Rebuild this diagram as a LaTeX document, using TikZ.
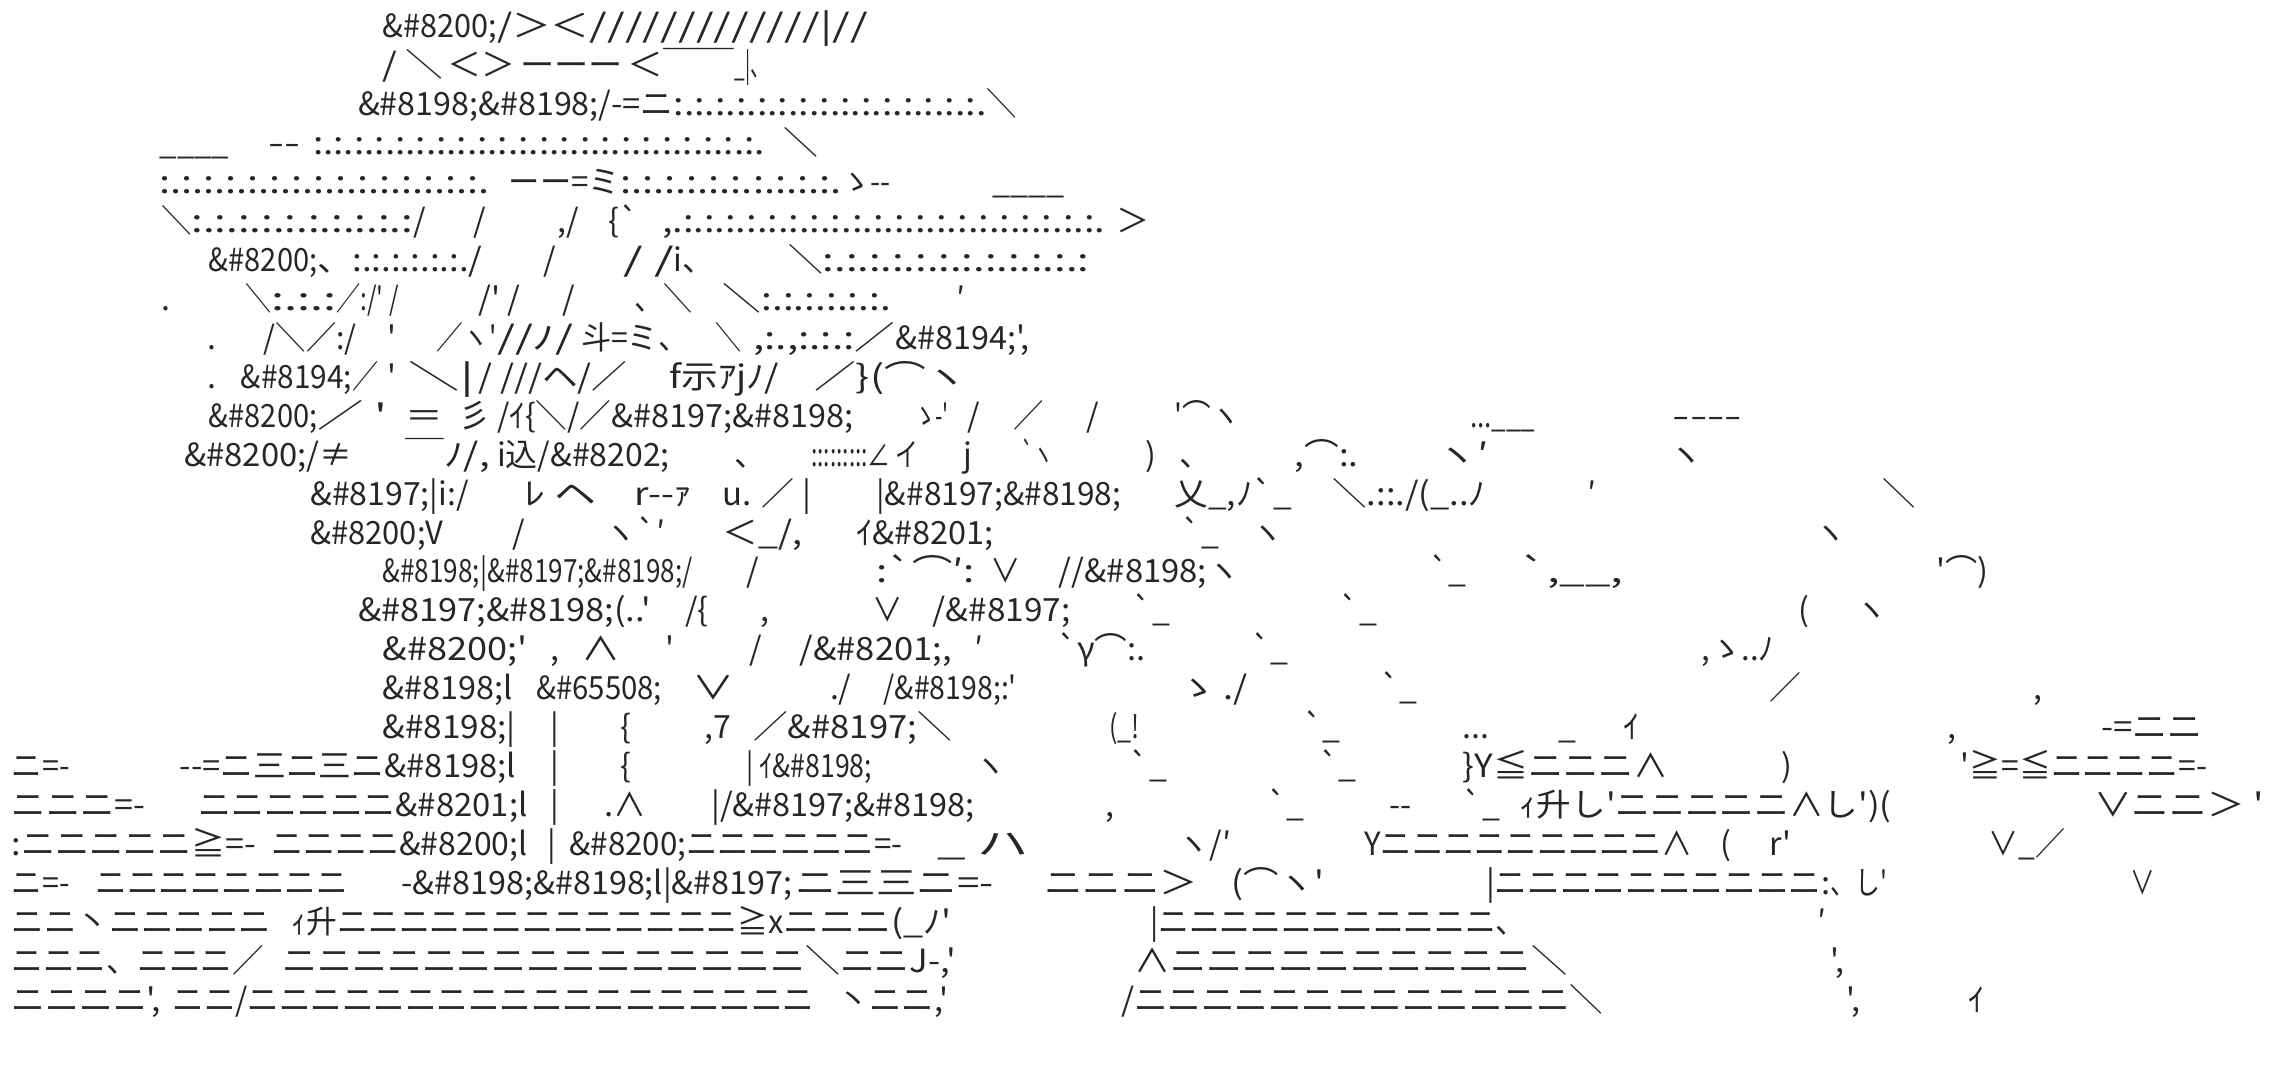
\documentclass[tikz,border=0pt]{standalone}
\usepackage{fontspec}
\usepackage{graphicx}
\newfontfamily\aafont{Noto Sans CJK JP}
\newsavebox\frbox
\newcount\frc
\newcommand\fitto[2]{\sbox\frbox{#2}\ifdim#1pt=0pt\usebox\frbox\else\scalebox{\fpeval{#1*0.724/\the\wd\frbox}}[1]{\usebox\frbox}\fi}
\newcommand\fr[4]{\global\advance\frc by 1\relax\node[aa] (t\the\frc) at (#1,{26+26.9*(#2-1)}) {\fitto{#3}{#4}};}
\tikzset{aa/.style={anchor=base west,inner sep=0pt,text=black!85,font=\aafont\fontsize{16}{16}\selectfont}}
\begin{document}
\begin{tikzpicture}[x=0.724pt,y=-0.724pt]
\useasboundingbox (0,0) rectangle (1568.4,754.1);
% line 1
\fr{264}{1}{79}{\&\#8200;}\fr{343}{1}{64}{/＞＜}\fr{407}{1}{192}{/////////////|//}
% line 2
\fr{264}{2}{42}{/ ＼}\fr{309}{2}{47}{＜＞}\fr{359}{2}{71}{ーーー}\fr{433}{2}{74}{＜￣￣}\fr{507}{2}{24}{\_|、}
% line 3
\fr{247}{3}{175}{\&\#8198;\&\#8198;/}\fr{422}{3}{43}{-=ニ}\fr{465}{3}{216}{:.:.:.:.:.:.:.:.:.:.:.:.:.:.:.}\fr{681}{3}{21}{＼}
% line 4
\fr{110}{4}{48}{\_\_\_\_}\fr{185}{4}{22}{--}\fr{216}{4}{312}{:.:.:.:.:.:.:.:.:.:.:.:.:.:.:.:.:.:.:.:.:.:.}\fr{541}{4}{24}{＼}
% line 5
\fr{110}{5}{228}{:.:.:.:.:.:.:.:.:.:.:.:.:.:.:.}\fr{351}{5}{77}{ーー=ミ}\fr{428}{5}{153}{:.:.:.:.:.:.:.:.:.:.}\fr{581}{5}{34}{ゝ--}\fr{685}{5}{50}{\_\_\_\_}
% line 6
\fr{111}{6}{21}{＼}\fr{132}{6}{153}{:.:.:.:.:.:.:.:.:.:}\fr{285}{6}{0}{/}\fr{327}{6}{0}{/}\fr{385}{6}{0}{,/}\fr{420}{6}{0}{\{`}\fr{457}{6}{306}{,.:.:.:.:.:.:.:.:.:.:.:.:.:.:.:.:.:.:.:.:.}\fr{771}{6}{23}{＞}
% line 7
\fr{144}{7}{75}{\&\#8200;}\fr{219}{7}{114}{、:.:.:.:.:.:./}\fr{375}{7}{0}{/}\fr{430}{7}{35}{/ /}\fr{465}{7}{0}{i、}\fr{544}{7}{24}{＼}\fr{568}{7}{184}{:.:.:.:.:.:.:.:.:.:.:.:}
% line 8
\fr{111}{8}{0}{.}\fr{169}{8}{18}{＼}\fr{187}{8}{45}{:.:.:}\fr{232}{8}{43}{／:/' /}\fr{330}{8}{29}{/' /}\fr{388}{8}{0}{/}\fr{438}{8}{40}{、＼}\fr{499}{8}{116}{＼:.:.:.:.:.:.}\fr{660}{8}{0}{′}
% line 9
\fr{143}{9}{0}{.}\fr{182}{9}{64}{/＼／:/}\fr{267}{9}{0}{'}\fr{301}{9}{42}{／ヽ'}\fr{343}{9}{53}{//ﾉ/}\fr{401}{9}{74}{斗=ミ、}\fr{494}{9}{18}{＼}\fr{520}{9}{98}{,:.,:.:.:／}\fr{618}{9}{93}{\&\#8194;',}
% line 10
\fr{143}{10}{0}{.}\fr{166}{10}{77}{\&\#8194;}\fr{243}{10}{18}{／}\fr{267}{10}{0}{'}\fr{282}{10}{45}{＼|}\fr{330}{10}{103}{/ ///ヘ/／}\fr{462}{10}{76}{f示ｱjﾉ/}\fr{562}{10}{106}{／\}(⌒ヽ}
% line 11
\fr{144}{11}{75}{\&\#8200;}\fr{219}{11}{48}{／ '}\fr{280}{11}{26}{＝}\fr{317}{11}{21}{彡}\fr{343}{11}{79}{/ｲ\{＼/／}\fr{422}{11}{167}{\&\#8197;\&\#8198;}\fr{631}{11}{24}{ゝ-'}\fr{668}{11}{0}{/}\fr{700}{11}{21}{／}\fr{750}{11}{0}{/}\fr{811}{11}{45}{'⌒ヽ}\fr{1015}{11}{45}{...\_\_\_}\fr{1155}{11}{48}{----}
% line 12
\fr{127}{12}{116}{\&\#8200;/≠}\fr{280}{12}{58}{￣ﾉ/,}\fr{343}{12}{0}{i込/\&\#8202;}\fr{507}{12}{0}{、}\fr{560}{12}{74}{:::::::::∠ イ}\fr{665}{12}{0}{j}\fr{705}{12}{22}{`ヽ}\fr{791}{12}{0}{)}\fr{814}{12}{0}{、}\fr{894}{12}{44}{,⌒:.}\fr{992}{12}{36}{ヽ′}\fr{1152}{12}{24}{ヽ}
% line 13
\fr{214}{13}{0}{\&\#8197;|i:/}\fr{362}{13}{50}{ﾚ ヘ}\fr{438}{13}{40}{r--ｧ}\fr{499}{13}{61}{u. ／ |}\fr{605}{13}{169}{|\&\#8197;\&\#8198;}\fr{811}{13}{81}{乂\_,ﾉ`\_}\fr{920}{13}{106}{＼.::./(\_..ﾉ}\fr{1096}{13}{0}{′}\fr{1300}{13}{23}{＼}
% line 14
\fr{214}{14}{92}{\&\#8200;V}\fr{354}{14}{0}{/}\fr{417}{14}{42}{ヽ`′}\fr{499}{14}{55}{＜\_/,}\fr{591}{14}{95}{ｲ\&\#8201;}\fr{816}{14}{0}{`\_}\fr{864}{14}{0}{ヽ}\fr{1253}{14}{0}{ヽ}
% line 15
\fr{264}{15}{214}{\&\#8198;|\&\#8197;\&\#8198;/}\fr{515}{15}{0}{/}\fr{605}{15}{68}{:`⌒′:}\fr{684}{15}{21}{∨}\fr{731}{15}{125}{//\&\#8198;ヽ}\fr{987}{15}{0}{`\_}\fr{1049}{15}{72}{`,\_\_,}\fr{1337}{15}{36}{'⌒)}
% line 16
\fr{247}{16}{202}{\&\#8197;\&\#8198;(..'}\fr{473}{16}{0}{/\{}\fr{525}{16}{0}{,}\fr{602}{16}{21}{∨}\fr{644}{16}{95}{/\&\#8197;}\fr{782}{16}{0}{`\_}\fr{925}{16}{0}{`\_}\fr{1242}{16}{0}{(}\fr{1281}{16}{0}{ヽ}
% line 17
\fr{264}{17}{100}{\&\#8200;'}\fr{380}{17}{0}{,}\fr{401}{17}{27}{∧}\fr{459}{17}{0}{'}\fr{517}{17}{0}{/}\fr{552}{17}{105}{/\&\#8201;,}\fr{673}{17}{0}{′}\fr{730}{17}{61}{`γ⌒:.}\fr{864}{17}{0}{`\_}\fr{1175}{17}{50}{,ゝ..ﾉ}
% line 18
\fr{264}{18}{90}{\&\#8198;l}\fr{370}{18}{87}{\&\#65508;}\fr{478}{18}{29}{∨}\fr{573}{18}{0}{./}\fr{610}{18}{92}{/\&\#8198;:'}\fr{814}{18}{47}{ゝ ./}\fr{953}{18}{0}{`\_}\fr{1222}{18}{22}{／}\fr{1404}{18}{0}{,}
% line 19
\fr{264}{19}{92}{\&\#8198;|}\fr{380}{19}{0}{|}\fr{428}{19}{0}{\{}\fr{486}{19}{0}{,7}\fr{520}{19}{137}{／\&\#8197;＼}\fr{766}{19}{21}{(\_!}\fr{900}{19}{0}{`\_}\fr{1010}{19}{0}{...}\fr{1076}{19}{0}{\_}\fr{1121}{19}{0}{ｲ}\fr{1345}{19}{0}{,}\fr{1451}{19}{70}{-=ニニ}
% line 20
\fr{8}{20}{40}{ニ=-}\fr{124}{20}{232}{--=ニ三ニ三ニ\&\#8198;l}\fr{380}{20}{0}{|}\fr{428}{20}{0}{\{}\fr{515}{20}{87}{| ｲ\&\#8198;}\fr{673}{20}{0}{ヽ}\fr{780}{20}{0}{`\_}\fr{911}{20}{0}{`\_}\fr{1010}{20}{142}{\}Y≦ニニニ∧}\fr{1230}{20}{0}{)}\fr{1354}{20}{170}{'≧=≦ニニニニ=-}
% line 21
\fr{8}{21}{92}{ニニニ=-}\fr{137}{21}{227}{ニニニニニニ\&\#8201;l}\fr{380}{21}{0}{|}\fr{417}{21}{29}{.∧}\fr{491}{21}{182}{|/\&\#8197;\&\#8198;}\fr{763}{21}{0}{,}\fr{875}{21}{0}{`\_}\fr{959}{21}{0}{--}\fr{1010}{21}{0}{`\_}\fr{1049}{21}{257}{ｨ升し'ニニニニニ∧し')(}\fr{1446}{21}{117}{∨ニニ＞ '}
% line 22
\fr{8}{22}{169}{:ニニニニニ≧=-}\fr{187}{22}{177}{ニニニニ\&\#8200;l}\fr{378}{22}{0}{|}\fr{393}{22}{230}{\&\#8200;ニニニニニニ=-}\fr{647}{22}{63}{\_ ハ}\fr{813}{22}{37}{ヽ/′}\fr{942}{22}{227}{Yニニニニニニニニニ∧}\fr{1188}{22}{0}{(}\fr{1222}{22}{0}{r'}\fr{1373}{22}{53}{∨\_／}
% line 23
\fr{8}{23}{40}{ニ=-}\fr{66}{23}{174}{ニニニニニニニニ}\fr{277}{23}{270}{-\&\#8198;\&\#8198;l|\&\#8197;}\fr{549}{23}{137}{ニ三三ニ=-}\fr{721}{23}{106}{ニニニ＞}\fr{850}{23}{64}{(⌒ヽ'}\fr{1026}{23}{238}{|ニニニニニニニニニニ:}\fr{1264}{23}{39}{、し'}\fr{1471}{23}{17}{∨}
% line 24
\fr{8}{24}{179}{ニニ丶ニニニニニ}\fr{201}{24}{340}{ｨ升ニニニニニニニニニニニニニ≧x}\fr{541}{24}{116}{ニニニ(\_ﾉ'}\fr{794}{24}{260}{|ニニニニニニニニニニニ、}\fr{1255}{24}{0}{′}
% line 25
\fr{8}{25}{174}{ニニニ、ニニニ／}\fr{195}{25}{465}{ニニニニニニニニニニニニニニニ＼ニニJ-,'}\fr{783}{25}{299}{∧ニニニニニニニニニニ＼}\fr{1264}{25}{0}{',}
% line 26
\fr{8}{26}{103}{ニニニニ',}\fr{119}{26}{443}{ニニ/ニニニニニニニニニニニニニニニニニニ}\fr{578}{26}{77}{丶ニニ,'}\fr{774}{26}{333}{/ニニニニニニニニニニニニニ＼}\fr{1275}{26}{0}{',}\fr{1359}{26}{0}{ｲ}
\end{tikzpicture}
\end{document}
